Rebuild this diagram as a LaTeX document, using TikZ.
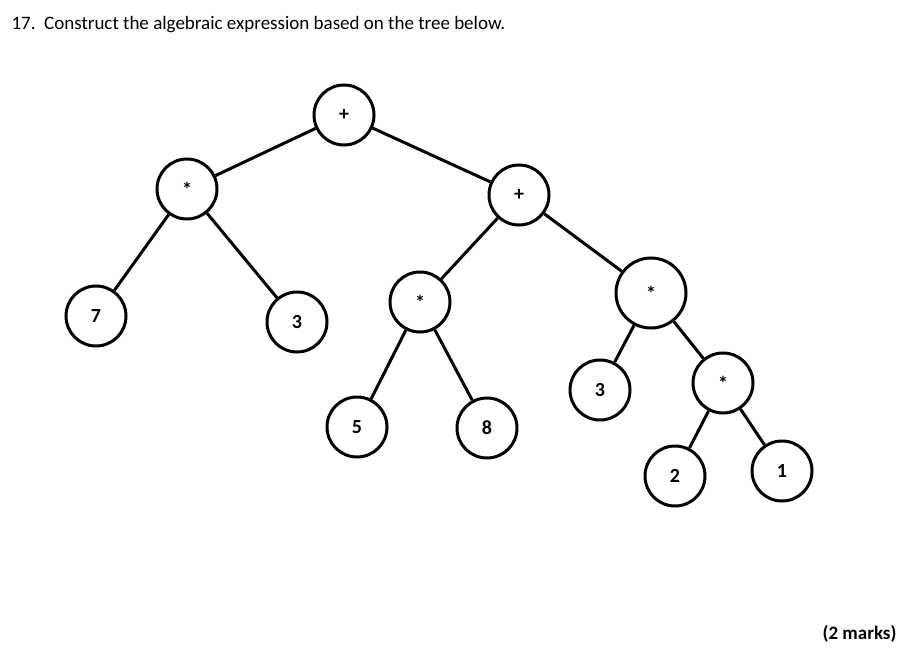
\documentclass[tikz,border=0pt]{standalone}
\usepackage{fontspec}
\setmainfont{Carlito}
\begin{document}
\begin{tikzpicture}[x=1pt,y=-1pt,
  nd/.style={circle,draw,line width=3pt,minimum size=60pt,inner sep=0pt,font=\fontsize{20}{20}\selectfont\bfseries},
  ed/.style={line width=3pt}]
\useasboundingbox (0,0) rectangle (918,658);
\node[anchor=west,font=\fontsize{19}{22}\selectfont] (title) at (8,25) {17.\ \ Construct the algebraic expression based on the tree below.};
\node[anchor=east,font=\fontsize{19}{22}\selectfont\bfseries] (marks) at (900,634) {(2 marks)};
\node[nd] (r) at (344,115) {+};
\node[nd] (a) at (187,189) {*};
\node[nd] (b) at (519,195) {+};
\node[nd] (n7) at (96,316) {7};
\node[nd] (n3a) at (297,322) {3};
\node[nd] (c) at (420,302) {*};
\node[nd,minimum size=70pt] (d) at (651,293) {*};
\node[nd] (n3b) at (600,390) {3};
\node[nd] (e) at (723,383) {*};
\node[nd] (n5) at (357,427) {5};
\node[nd] (n8) at (487,428) {8};
\node[nd] (n2) at (675,476) {2};
\node[nd] (n1) at (782,471) {1};
\foreach \u/\v in {r/a,r/b,a/n7,a/n3a,b/c,b/d,c/n5,c/n8,d/n3b,d/e,e/n2,e/n1}
  \draw[ed] (\u) -- (\v);
\end{tikzpicture}
\end{document}
